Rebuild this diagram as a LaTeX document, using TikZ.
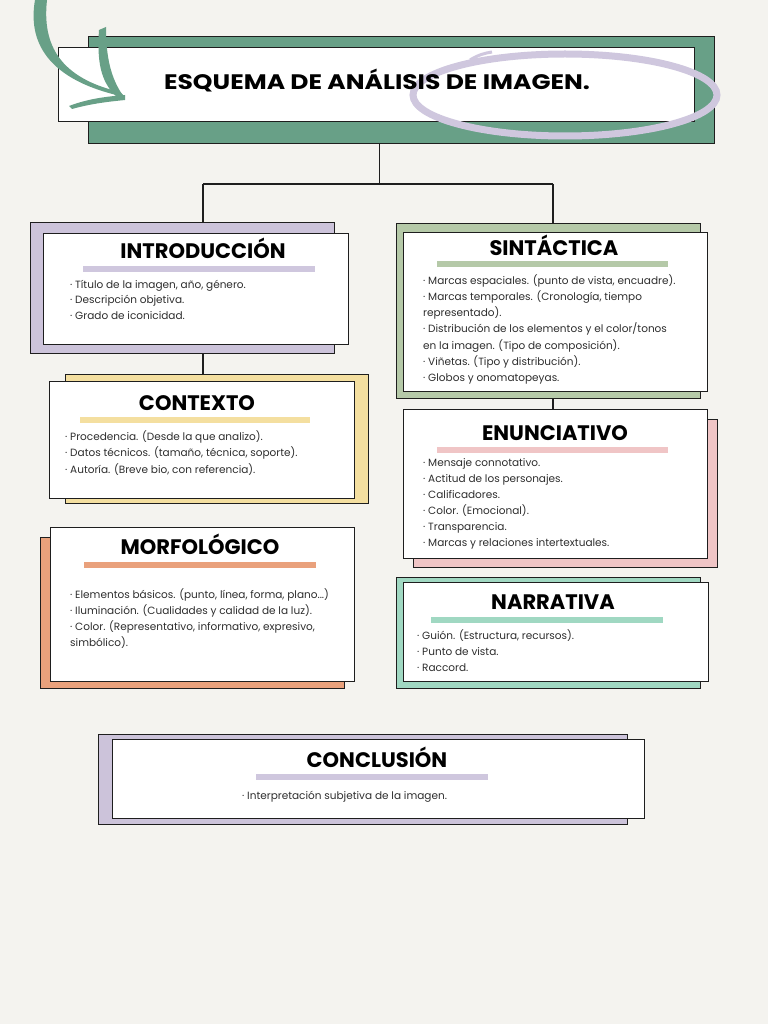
\documentclass[tikz,border=0pt]{standalone}
\usepackage{fontspec}
\setmainfont{Poppins}
\definecolor{bg}{HTML}{F4F3EF}
\definecolor{ink}{HTML}{1E1E1E}
\definecolor{txt}{HTML}{2E2E2E}
\definecolor{tgreen}{HTML}{68A087}
\definecolor{lila}{HTML}{CCC3DA}
\definecolor{lilab}{HTML}{CFC7DE}
\definecolor{yel}{HTML}{F4DFA0}
\definecolor{sage}{HTML}{B5C9A8}
\definecolor{pink}{HTML}{F0C5C6}
\definecolor{orng}{HTML}{E9A17C}
\definecolor{mint}{HTML}{A0D8C2}
\newcommand\fl{\rule{0pt}{10pt}}
\begin{document}
\begin{tikzpicture}[x=1pt,y=-1pt,
  box/.style={draw=ink, line width=1.2pt, inner sep=0pt, anchor=north west},
  wire/.style={draw=ink, line width=1.1pt},
  head/.style={anchor=base, inner sep=0pt, font=\fontsize{21}{24}\selectfont\bfseries, text=black},
  brush/.style={line width=6pt},
  body/.style={anchor=north west, inner sep=0pt, align=left, text=txt}]
\useasboundingbox (0,0) rectangle (768,1024);
\fill[bg] (0,0) rectangle (768,1024);

% connectors
\coordinate (jm) at (379.5,184);
\coordinate (jl) at (203,184);
\coordinate (jr) at (553,184);

% title
\node[box, fill=tgreen, minimum width=626pt, minimum height=107pt] (titleB) at (88,36) {};
\node[box, fill=white, minimum width=636pt, minimum height=74pt] (titleF) at (58,47) {};

% cards
\node[box, fill=lila, minimum width=304pt, minimum height=131pt] (introB) at (30,222) {};
\node[box, fill=white, minimum width=305pt, minimum height=111pt] (introF) at (43,233) {};
\node[box, fill=yel, minimum width=303pt, minimum height=129pt] (contB) at (65,374) {};
\node[box, fill=white, minimum width=305pt, minimum height=117pt] (contF) at (49,381) {};
\node[box, fill=sage, minimum width=304pt, minimum height=175pt] (sintB) at (396,223) {};
\node[box, fill=white, minimum width=304pt, minimum height=159pt] (sintF) at (403,232) {};
\node[box, fill=pink, minimum width=304pt, minimum height=148pt] (enunB) at (413,419) {};
\node[box, fill=white, minimum width=304pt, minimum height=149pt] (enunF) at (403,409) {};
\node[box, fill=orng, minimum width=304pt, minimum height=151pt] (morfB) at (40,537) {};
\node[box, fill=white, minimum width=304pt, minimum height=154pt] (morfF) at (50,527) {};
\node[box, fill=mint, minimum width=304pt, minimum height=111pt] (narrB) at (396,577) {};
\node[box, fill=white, minimum width=305pt, minimum height=99pt] (narrF) at (403,582) {};
\node[box, fill=lila, minimum width=529pt, minimum height=90pt] (conclB) at (98,734) {};
\node[box, fill=white, minimum width=532pt, minimum height=79pt] (conclF) at (112,739) {};

\draw[wire] (titleB.south -| jm) -- (jm);
\draw[wire] (jl) -- (jr);
\draw[wire] (jl) -- (jl |- introB.north);
\draw[wire] (jr) -- (jr |- sintB.north);
\draw[wire] (introB.south -| jl) -- (jl |- contB.north);
\draw[wire] (sintB.south -| jr) -- (jr |- enunF.north);

% green arrow
\fill[tgreen] (35,0) .. controls (28,40) and (45,80) .. (125,97)
  -- (120,92) .. controls (60,78) and (42,45) .. (47,0) -- cycle;
\fill[tgreen] (99,30) .. controls (97,60) and (100,82) .. (117,97) -- (124,97)
  .. controls (110,78) and (106,55) .. (106,27) -- cycle;
\fill[tgreen] (125,95) .. controls (100,97) and (85,100) .. (69,106)
  -- (72,109) .. controls (90,104) and (105,102) .. (125,100) -- cycle;

% lilac circle
\draw[lilab, line width=7pt] (565,95) ellipse [x radius=152, y radius=41];
\draw[lilab, line width=3pt] (470,60) .. controls (478,55) and (485,53) .. (492,52);

% title text
\node[head] (title) at (377,89.5) {\scalebox{1.19}[1]{ESQUEMA DE ANÁLISIS DE IMAGEN.}};

% brushes
\draw[brush, lilab] (83,269) -- (315,269);
\draw[brush, yel] (80,420) -- (310,420);
\draw[brush, sage] (437,264) -- (668,264);
\draw[brush, pink] (437,450) -- (668,450);
\draw[brush, orng] (84,565) -- (316,565);
\draw[brush, mint] (431,620) -- (663,620);
\draw[brush, lilab] (256,777) -- (488,777);

% headings
\node[head] (introH) at (203,258.5) {INTRODUCCIÓN};
\node[head] (contH) at (197,410.5) {CONTEXTO};
\node[head] (sintH) at (554,255.5) {SINTÁCTICA};
\node[head] (enunH) at (555,440.5) {ENUNCIATIVO};
\node[head] (morfH) at (200,554.5) {MORFOLÓGICO};
\node[head] (narrH) at (553,609.5) {NARRATIVA};
\node[head] (conclH) at (377,767.5) {CONCLUSIÓN};

% body texts
\node[body, font=\fontsize{10.5}{15.5}\selectfont] (introT) at (70,278)
  {\fl· Título de la imagen, año, género.\\· Descripción objetiva.\\· Grado de iconicidad.};
\node[body, font=\fontsize{10.5}{16.5}\selectfont] (contT) at (65,430)
  {\fl· Procedencia. (Desde la que analizo).\\· Datos técnicos. (tamaño, técnica, soporte).\\· Autoría. (Breve bio, con referencia).};
\node[body, font=\fontsize{10.5}{16.2}\selectfont] (sintT) at (423,274)
  {\fl· Marcas espaciales. (punto de vista, encuadre).\\· Marcas temporales. (Cronología, tiempo\\representado).\\· Distribución de los elementos y el color/tonos\\en la imagen. (Tipo de composición).\\· Viñetas. (Tipo y distribución).\\· Globos y onomatopeyas.};
\node[body, font=\fontsize{10.5}{16}\selectfont] (enunT) at (423,456)
  {\fl· Mensaje connotativo.\\· Actitud de los personajes.\\· Calificadores.\\· Color. (Emocional).\\· Transparencia.\\· Marcas y relaciones intertextuales.};
\node[body, font=\fontsize{10.5}{16}\selectfont] (morfT) at (70,588)
  {\fl· Elementos básicos. (punto, línea, forma, plano...)\\· Iluminación. (Cualidades y calidad de la luz).\\· Color. (Representativo, informativo, expresivo,\\simbólico).};
\node[body, font=\fontsize{10.5}{16}\selectfont] (narrT) at (417,629)
  {\fl· Guión. (Estructura, recursos).\\· Punto de vista.\\· Raccord.};
\node[body, font=\fontsize{10.5}{16}\selectfont] (conclT) at (242,789)
  {\fl· Interpretación subjetiva de la imagen.};
\end{tikzpicture}
\end{document}
